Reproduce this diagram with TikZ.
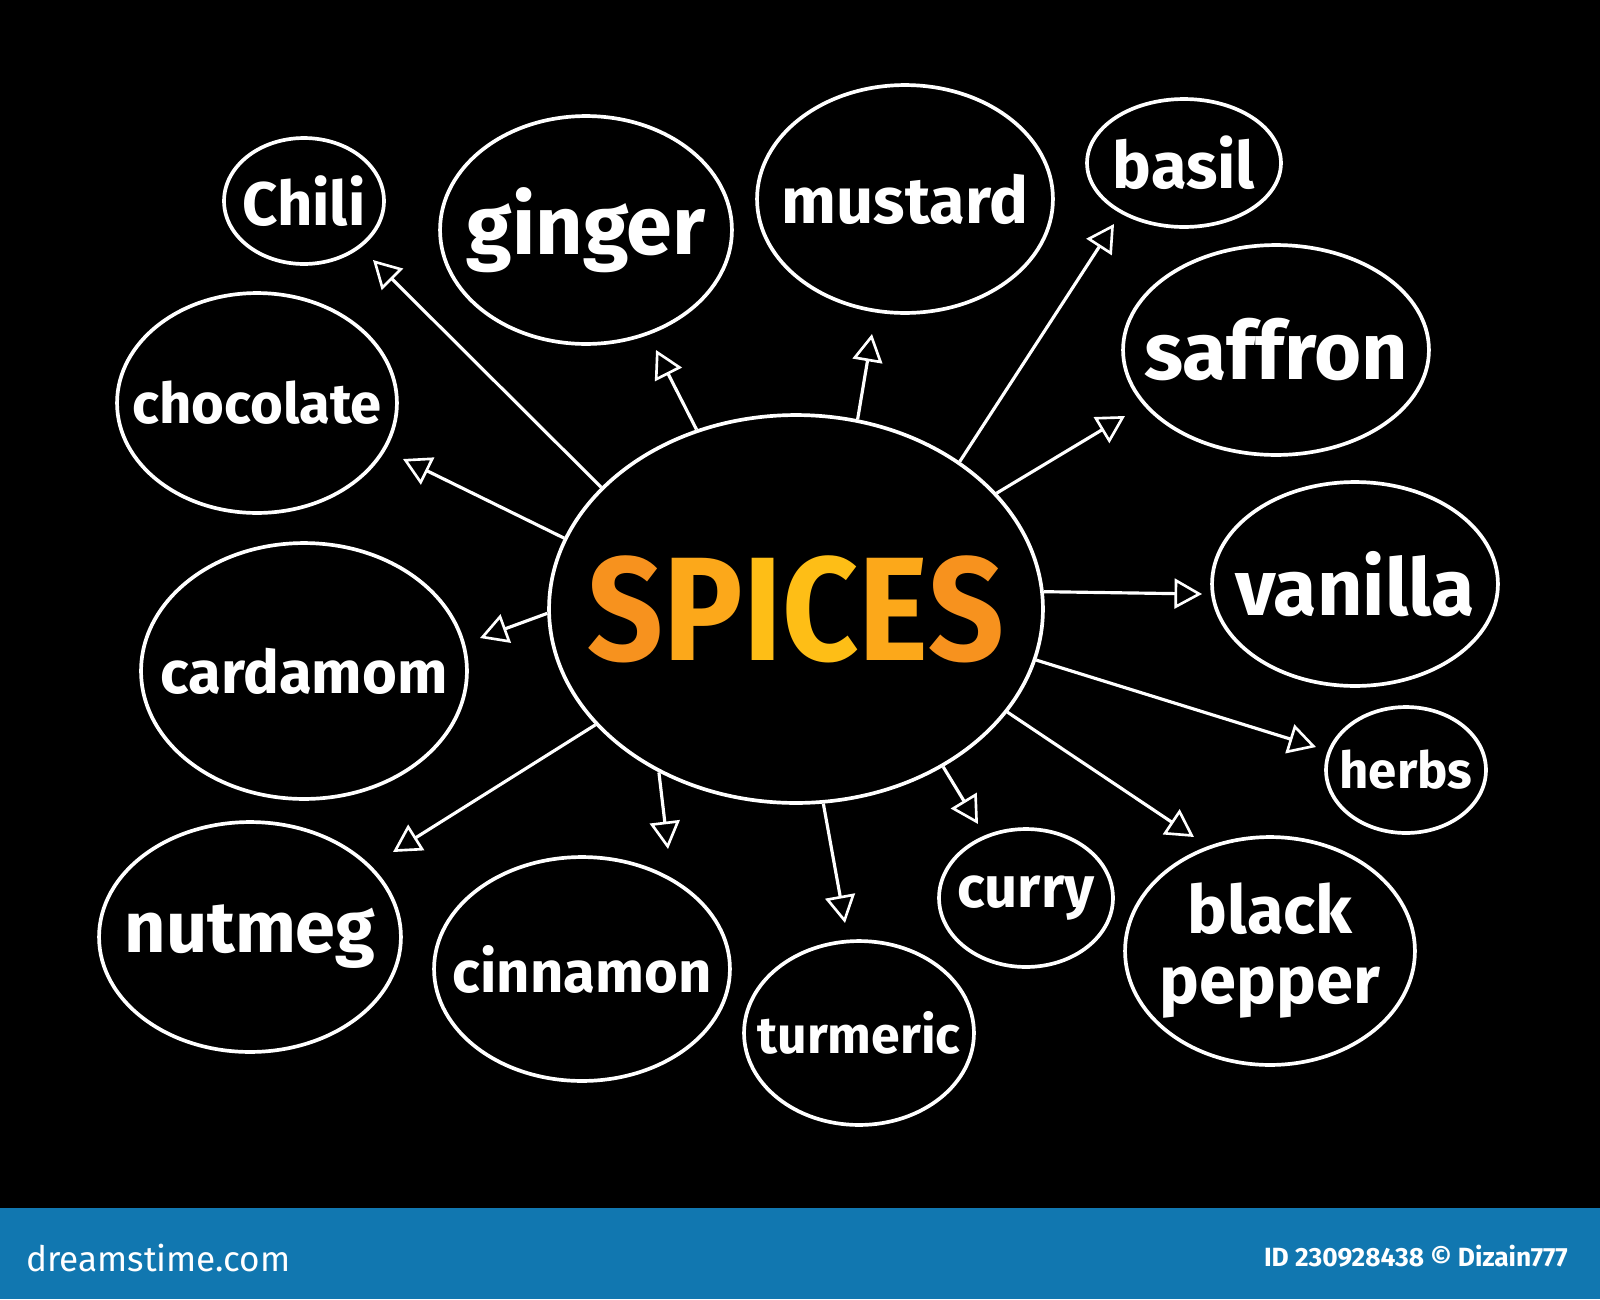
\documentclass[tikz,border=0pt]{standalone}
\usepackage{fontspec}
\setmainfont{Fira Sans}
\usetikzlibrary{shapes.geometric,arrows.meta}
\definecolor{spiceA}{RGB}{247,146,30}
\definecolor{spiceB}{RGB}{252,168,26}
\definecolor{spiceC}{RGB}{254,190,22}
\definecolor{stockblue}{RGB}{17,119,176}
\tikzset{
  bubble/.style={ellipse, draw=white, line width=2.1pt, inner sep=0pt},
  word/.style={text=white, align=center, inner sep=0pt},
  pointer/.style={draw=white, line width=1.8pt, -{Triangle[open, length=0.55cm, width=0.6cm, line width=1.5pt]}}
}
\begin{document}
\begin{tikzpicture}[x=0.02cm, y=-0.02cm]
  \fill[black] (0,0) rectangle (1600,1299);
  \useasboundingbox (0,0) rectangle (1600,1299);
  % bottom stock bar
  \fill[stockblue] (0,1208) rectangle (1600,1299);
  \node[text=white, anchor=west, font=\fontsize{20}{20}\selectfont] (site) at (20,1258) {dreamstime.com};
  \node[text=white, anchor=east, font=\bfseries\fontsize{15}{15}\selectfont] (imgid) at (1574,1256) {ID 230928438 © Dizain777};

  % centre bubble
  \node[bubble, minimum width=9.88cm, minimum height=7.76cm] (spices) at (796,609) {};
  \node[word, font=\bfseries\fontsize{84}{84}\selectfont] (spices-txt) at (spices)
    {\scalebox{0.9}[1]{\color{spiceA}S\color{spiceB}P\color{spiceC}IC\color{spiceB}E\color{spiceA}S}};

  % spice bubbles: name/x/y/rx/ry/size/text
  \foreach \n/\x/\y/\rx/\ry/\s/\t in
  {chili/304/201/80/63/35/Chili,
   ginger/586/230/146/114/47/ginger,
   mustard/905/199/148/114/37/mustard,
   basil/1184/163/97/64/37/basil,
   saffron/1276/350/153/105/46/saffron,
   chocolate/257/403/140/110/32/chocolate,
   vanilla/1355/584/143/102/45/vanilla,
   cardamom/304/671/163/128/34/cardamom,
   herbs/1406/770/80/63/29/herbs,
   nutmeg/250/937/151/115/41/nutmeg,
   cinnamon/582/969/148/112/33/cinnamon,
   curry/1026/898/87/69/33/curry,
   turmeric/859/1033/115/92/29.5/turmeric,
   pepper/1270/951/145/114/38/{black\\pepper}}
  {
    \pgfmathsetmacro{\lead}{1.05*\s}
    \node[bubble, minimum width=\rx*0.04cm, minimum height=\ry*0.04cm] (\n) at (\x,\y) {};
    \node[word, font=\bfseries\fontsize{\s}{\lead}\selectfont] (\n-txt) at (\n) {\t};
  }

  % arrows: name/start angle/tip x/tip y
  \foreach \n/\a/\x/\y in
  {chili/148.7/373/260,
   ginger/119.9/656/350,
   mustard/72.4/872/334,
   basil/42/1114/224,
   saffron/30.1/1125/416,
   chocolate/163.2/403/459,
   vanilla/4.3/1202/594,
   cardamom/181.4/480/638,
   herbs/348.5/1316/747,
   nutmeg/210.7/393/852,
   cinnamon/230.4/668/849,
   turmeric/278.1/845/923,
   curry/313.5/978/824,
   pepper/334.4/1194/837}
  {
    \coordinate (tip-\n) at (\x,\y);
    \draw[pointer] (spices.\a) -- (tip-\n);
  }
\end{tikzpicture}
\end{document}
